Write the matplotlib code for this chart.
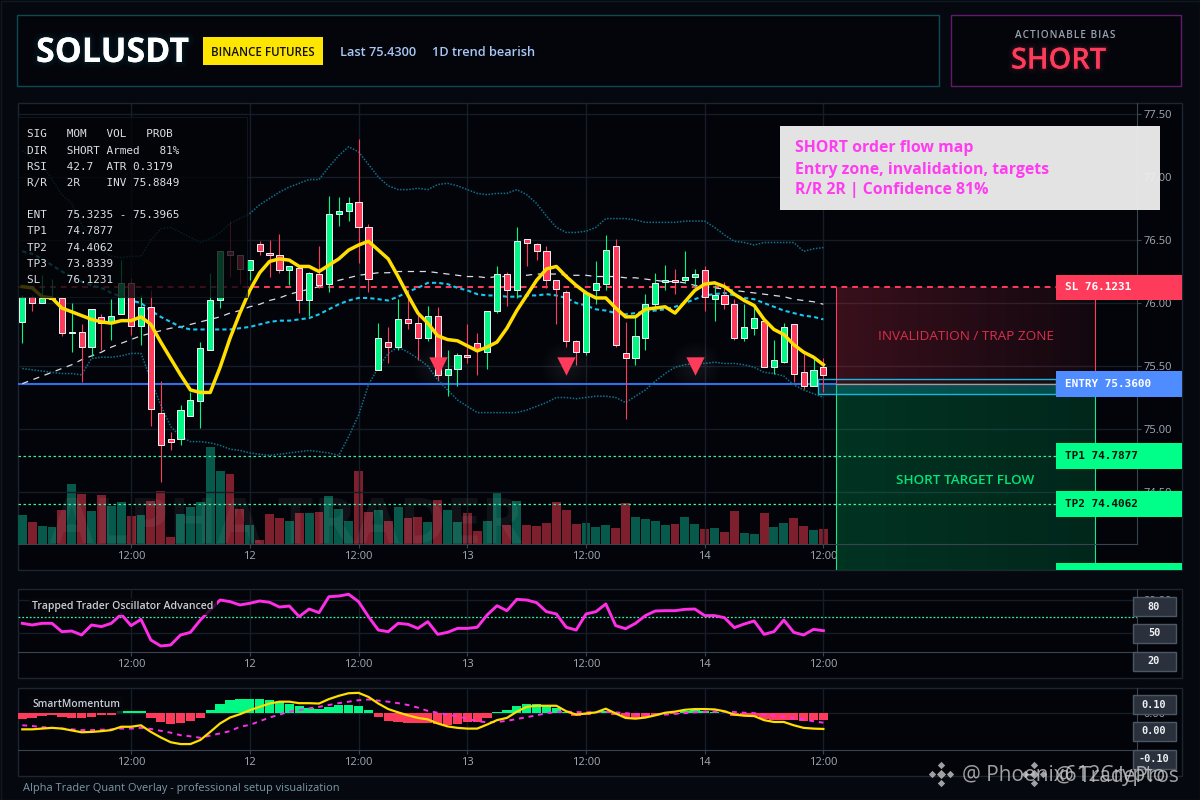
import numpy as np
import matplotlib
matplotlib.use("Agg")
import matplotlib.pyplot as plt
import matplotlib.patheffects as pe
from matplotlib.patches import Rectangle

plt.rcParams['font.family'] = ['Open Sans', 'DejaVu Sans']

# candles, one per hour
opens = [75.85,76.05,76.00,76.03,76.04,75.76,75.77,75.65,75.89,75.85,
         75.91,76.16,75.82,75.97,75.13,74.92,74.92,75.10,75.22,75.63,
         76.02,76.41,76.38,76.26,76.47,76.40,76.38,76.26,76.28,76.02,
         76.23,76.15,76.71,76.73,76.80,76.60,75.47,75.69,75.65,75.87,
         75.84,75.72,75.90,75.43,75.48,75.59,75.68,75.61,75.94,76.23,
         76.10,76.51,76.47,76.41,76.18,76.09,75.70,75.61,76.10,76.15,
         76.45,75.60,75.56,75.72,75.99,76.17,76.18,76.18,76.21,76.26,
         76.03,76.06,75.99,75.72,75.80,75.86,75.49,75.53,75.83,75.45,
         75.34,75.49]
closes = [76.05,76.00,76.04,76.04,75.76,75.77,75.65,75.95,75.84,75.90,
          76.16,75.82,75.97,75.16,74.87,74.90,75.15,75.23,75.64,76.02,
          76.41,76.38,76.27,76.34,76.41,76.38,76.26,76.29,76.02,76.24,
          76.14,76.71,76.73,76.79,76.60,76.19,75.72,75.65,75.87,75.84,
          75.72,75.90,75.43,75.48,75.59,75.57,75.63,75.94,76.23,76.10,
          76.49,76.48,76.41,76.18,76.11,75.70,75.61,76.08,76.16,76.42,
          75.67,75.56,75.74,75.99,76.16,76.18,76.17,76.21,76.23,76.05,
          76.06,75.99,75.72,75.81,75.88,75.49,75.55,75.81,75.44,75.34,
          75.47,75.43]
highs = [76.06,76.06,76.22,76.19,76.04,76.00,75.83,75.95,75.91,76.03,
         76.34,76.20,76.06,76.10,75.38,74.98,75.19,75.29,75.69,76.24,
         76.41,76.65,76.38,76.34,76.49,76.50,76.55,76.29,76.28,76.25,
         76.45,76.85,76.84,76.84,77.30,76.63,75.84,75.81,76.03,76.10,
         75.94,75.98,75.97,75.63,75.60,75.83,75.76,75.94,76.29,76.25,
         76.60,76.51,76.48,76.45,76.18,76.10,75.71,76.08,76.33,76.54,
         76.51,75.85,75.90,76.07,76.24,76.30,76.27,76.41,76.27,76.29,
         76.14,76.17,76.03,75.99,75.96,75.88,75.71,75.84,75.83,75.60,
         75.56,75.56]
lows = [75.68,75.94,76.00,76.02,75.74,75.61,75.37,75.58,75.63,75.71,
        75.91,75.75,75.67,75.02,74.58,74.83,74.87,75.10,75.01,75.63,
        75.96,76.21,76.15,76.18,76.38,76.21,76.24,76.14,75.92,75.90,
        76.12,76.09,76.61,76.65,76.32,76.09,75.47,75.52,75.63,75.79,
        75.55,75.70,75.39,75.26,75.34,75.52,75.43,75.48,75.92,75.98,
        76.04,76.29,76.34,76.12,75.83,75.65,75.51,75.59,75.99,76.10,
        75.65,75.08,75.51,75.63,75.97,76.10,76.07,76.16,76.13,75.94,
        75.86,75.95,75.71,75.70,75.75,75.49,75.44,75.52,75.37,75.32,
        75.34,75.29]
volumes = [29,22,18,17,34,60,50,33,49,38,42,28,29,43,53,7,30,37,42,97,
           73,70,35,19,4,30,26,23,31,31,32,48,35,23,73,32,34,23,37,26,
           27,22,44,34,22,31,13,23,51,19,43,19,18,21,42,34,20,21,17,19,
           16,41,27,25,23,19,20,27,20,15,16,12,33,11,10,31,17,21,26,18,
           14,15]

# overlays on price
fast_line = [76.13,76.12,76.05,76.04,75.96,75.93,75.90,75.87,75.85,75.84,
             75.86,75.86,75.89,75.83,75.69,75.56,75.43,75.31,75.29,75.29,
             75.49,75.72,75.92,76.10,76.24,76.33,76.35,76.34,76.29,76.29,
             76.25,76.30,76.35,76.42,76.46,76.49,76.42,76.35,76.21,76.06,
             75.92,75.84,75.74,75.71,75.70,75.66,75.62,75.65,75.69,75.80,
             75.94,76.06,76.18,76.27,76.29,76.21,76.14,76.08,76.04,76.04,
             75.96,75.89,75.89,75.95,75.96,75.97,75.92,76.01,76.10,76.15,
             76.16,76.13,76.07,76.02,75.98,75.87,75.79,75.75,75.67,75.61,
             75.57,75.51]
mid_line = [76.41,76.39,76.35,76.30,76.25,76.21,76.17,76.14,76.12,76.08,
            76.05,76.02,76.00,75.94,75.89,75.85,75.81,75.79,75.79,75.79,
            75.79,75.79,75.80,75.81,75.83,75.85,75.86,75.86,75.87,75.88,
            75.91,75.95,75.99,76.02,76.04,76.04,76.03,76.02,76.05,76.09,
            76.12,76.16,76.16,76.15,76.12,76.10,76.07,76.06,76.06,76.05,
            76.05,76.06,76.06,76.07,76.06,76.04,76.00,75.98,75.95,75.94,
            75.92,75.91,75.92,75.93,75.94,75.95,75.97,76.00,76.03,76.06,
            76.07,76.08,76.06,76.04,76.03,76.00,75.97,75.94,75.92,75.90,
            75.89,75.87]
slow_line = [75.36,75.39,75.42,75.45,75.48,75.51,75.55,75.58,75.61,75.65,
             75.68,75.71,75.74,75.76,75.78,75.80,75.81,75.83,75.85,75.87,
             75.89,75.92,75.94,75.97,75.99,76.02,76.04,76.07,76.09,76.11,
             76.13,76.16,76.18,76.20,76.22,76.23,76.24,76.24,76.25,76.25,
             76.25,76.25,76.24,76.23,76.22,76.21,76.21,76.20,76.21,76.21,
             76.22,76.22,76.23,76.23,76.23,76.22,76.22,76.22,76.21,76.21,
             76.21,76.20,76.20,76.19,76.18,76.17,76.17,76.16,76.14,76.13,
             76.12,76.11,76.10,76.09,76.08,76.07,76.06,76.05,76.03,76.02,
             76.01,75.99]
band_upper = [77.21,77.15,77.10,76.98,76.86,76.79,76.62,76.52,76.42,76.37,
              76.36,76.37,76.37,76.50,76.59,76.60,76.56,76.52,76.48,76.51,
              76.56,76.63,76.67,76.71,76.78,76.83,76.88,76.92,76.95,76.98,
              76.98,77.08,77.17,77.24,77.20,77.10,77.00,76.93,76.90,76.90,
              76.91,76.90,76.94,76.95,76.93,76.90,76.87,76.86,76.87,76.87,
              76.90,76.86,76.79,76.69,76.60,76.56,76.56,76.57,76.60,76.67,
              76.67,76.67,76.66,76.64,76.64,76.64,76.64,76.65,76.65,76.65,
              76.60,76.54,76.49,76.48,76.46,76.48,76.48,76.48,76.48,76.41,
              76.43,76.44]
band_lower = [75.48,75.47,75.46,75.45,75.44,75.44,75.43,75.56,75.57,75.57,
              75.58,75.60,75.60,75.39,75.19,75.02,74.94,74.90,74.90,74.89,
              74.87,74.84,74.83,74.81,74.80,74.79,74.80,74.81,74.82,74.83,
              74.82,74.81,74.79,74.94,75.11,75.35,75.49,75.60,75.65,75.61,
              75.56,75.50,75.39,75.31,75.23,75.18,75.13,75.13,75.13,75.13,
              75.13,75.15,75.18,75.21,75.25,75.25,75.24,75.25,75.26,75.26,
              75.25,75.21,75.26,75.31,75.38,75.44,75.49,75.51,75.52,75.52,
              75.53,75.52,75.52,75.51,75.49,75.45,75.44,75.42,75.35,75.31,
              75.28,75.25]

# Trapped Trader Oscillator
tto = [58.8,57.3,58.8,58.8,51.2,51.8,48.2,57.3,55.8,58.8,
       67.0,56.7,62.4,43.6,38.2,39.1,48.2,50.6,61.8,70.9,
       80.0,78.5,75.5,77.0,79.1,77.9,73.6,74.5,64.9,71.8,
       68.5,83.0,83.6,85.2,78.5,64.9,52.7,51.2,58.8,57.9,
       54.2,60.3,48.8,50.6,54.2,54.2,55.2,66.4,74.8,70.3,
       80.6,80.0,77.6,69.4,67.3,55.2,52.7,67.3,69.4,76.4,
       56.7,53.9,58.8,65.8,70.0,70.3,70.3,71.5,71.8,65.8,
       65.8,63.9,54.9,58.2,60.9,48.8,51.2,61.8,50.6,48.2,
       53.3,52.1]

# SmartMomentum
sm_hist = [-.014,-.011,-.007,-.005,-.009,-.012,-.013,-.009,-.005,-.003,
           .007,.008,.007,-.011,-.024,-.029,-.025,-.021,-.011,.010,
           .026,.037,.040,.040,.040,.036,.032,.027,.019,.015,
           .013,.018,.024,.023,.021,.009,-.009,-.020,-.023,-.025,
           -.025,-.027,-.029,-.032,-.029,-.023,-.022,-.011,.004,.009,
           .020,.025,.025,.020,.014,.005,-.006,-.003,.002,.007,
           -.003,-.009,-.011,-.009,-.005,.002,-.002,.007,.010,.008,
           .004,.002,-.006,-.007,-.007,-.016,-.018,-.018,-.018,-.020,
           -.019,-.018]
sm_line = [-.043,-.043,-.041,-.039,-.041,-.046,-.051,-.050,-.048,-.045,
           -.036,-.036,-.032,-.050,-.065,-.078,-.083,-.083,-.072,-.050,
           -.027,-.011,-.002,.009,.018,.027,.032,.032,.028,.028,
           .027,.039,.048,.055,.056,.045,.027,.012,.003,-.005,
           -.012,-.016,-.027,-.035,-.039,-.041,-.041,-.030,-.018,-.012,
           .005,.018,.021,.021,.021,.006,-.003,0,.003,.013,
           0,-.012,-.014,-.011,-.005,.002,.005,.010,.012,.012,
           .011,.006,-.003,-.006,-.007,-.018,-.023,-.023,-.032,-.039,
           -.041,-.042]
sm_signal = [-.032,-.034,-.037,-.039,-.041,-.043,-.045,-.045,-.044,-.043,
             -.041,-.041,-.039,-.042,-.047,-.052,-.059,-.062,-.066,-.060,
             -.054,-.048,-.036,-.031,-.021,-.011,-.003,.005,.009,.014,
             .018,.023,.028,.032,.036,.038,.035,.032,.028,.023,
             .016,.007,.002,-.003,-.008,-.014,-.021,-.024,-.023,-.020,
             -.015,-.010,-.005,.001,.004,.005,.004,.003,.004,.005,
             .003,.001,-.002,-.003,-.003,-.003,-.001,.001,.003,.005,
             .005,.005,.004,.002,.001,-.003,-.006,-.009,-.013,-.016,
             -.021,-.025]

tick_idx = [11, 23, 34, 45, 57, 69, 81]
tick_names = ['12:00', '12', '12:00', '13', '12:00', '14', '12:00']
price_ticks = [74.5, 75.0, 75.5, 76.0, 76.5, 77.0, 77.5]
signal_idx = [42, 55, 68]
signal_price = 75.50
level_names = ['SL 76.1231', 'ENTRY 75.3600', 'TP1 74.7877', 'TP2 74.4062', 'TP3 73.8339']
level_vals = [76.1231, 75.36, 74.7877, 74.4062, 73.8339]
level_cols = ['#ff3b5c', '#4f8cff', '#00ff88', '#00ff88', '#00ff88']
level_text = ['white', 'white', '#04140c', '#04140c', '#04140c']
panel_rows = ['SIG   MOM   VOL   PROB',
              'DIR   SHORT Armed   81%',
              'RSI   42.7  ATR 0.3179',
              'R/R   2R    INV 75.8849',
              '',
              'ENT   75.3235 - 75.3965',
              'TP1   74.7877',
              'TP2   74.4062',
              'TP3   73.8339',
              'SL    76.1231']
note_rows = ['SHORT order flow map', 'Entry zone, invalidation, targets', 'R/R 2R | Confidence 81%']

W, H = 1200, 800
GREEN, RED = '#00f884', '#ff3b5c'
YELLOW = '#ffde00'
PANE = '#02040a'
GRID = '#161d27'
AXCOL = '#3a4450'
TICKCOL = '#a3abb6'
MONO = 'DejaVu Sans Mono'

# pixel <-> data helpers: one candle every 9.89 px, first one at x=22.3
STEP = 9.89
X0 = 22.3
XR = 1136.7
def xi(px):
    return (px - X0) / STEP
x_left, x_right, x_end = xi(18), xi(1182), xi(XR)
idx = np.arange(len(opens))

def add_axes(l, t, r, b, z):
    a = fig.add_axes([l / W, 1 - b / H, (r - l) / W, (b - t) / H], zorder=z)
    a.patch.set_alpha(0)
    return a

def style_pane(a, y_floor, y_top, yticks, fmt):
    a.set_xlim(x_left, x_right)
    for s in ['left', 'top']:
        a.spines[s].set_visible(False)
    a.spines['bottom'].set_position(('data', y_floor))
    a.spines['bottom'].set_bounds(x_left, x_end)
    a.spines['right'].set_position(('data', x_end))
    a.spines['right'].set_bounds(y_floor, y_top)
    a.spines['bottom'].set_color(AXCOL)
    a.spines['right'].set_color(AXCOL)
    a.yaxis.tick_right()
    a.set_xticks(tick_idx)
    a.set_xticklabels(tick_names)
    a.set_yticks(yticks)
    a.set_yticklabels([fmt % v for v in yticks])
    a.tick_params(colors=AXCOL, labelcolor=TICKCOL, labelsize=8, length=3, width=0.8, pad=2)
    a.vlines(tick_idx, y_floor, y_top, color=GRID, lw=1, zorder=1)
    a.hlines(yticks, x_left, x_end, color=GRID, lw=1, zorder=1)

fig = plt.figure(figsize=(12, 8), dpi=100, facecolor='#05080e')

# page furniture, in pixels
bg = add_axes(0, 0, W, H, 0)
bg.set_xlim(0, W)
bg.set_ylim(H, 0)
bg.axis('off')
def box(a, l, t, r, b, edge, face='none', lw=1, z=1, alpha=None):
    a.add_patch(Rectangle((l, t), r - l, b - t, fc=face, ec=edge, lw=lw, zorder=z, alpha=alpha))

box(bg, 0.5, 0.5, W - 0.5, H - 0.5, '#101824', face='none')
box(bg, 17, 15, 939, 86, '#0e4a55', face='#03050b')
box(bg, 951, 15, 1181, 86, '#641a6c', face='#03050b')
for t, b in [(103, 570), (589, 678), (688, 776)]:
    box(bg, 17.5, t, 1182, b, '#1c2530', face=PANE)

bg.text(36, 53, 'SOLUSDT', color='white', fontsize=24.5, fontweight='bold', va='center',
        path_effects=[pe.withStroke(linewidth=7, foreground='#1ad0ff', alpha=0.03),
                      pe.withStroke(linewidth=3, foreground='#1ad0ff', alpha=0.04)])
box(bg, 203, 37, 323, 65, 'none', face='#ffe600')
bg.text(263, 52, 'BINANCE FUTURES', color='#101010', fontsize=8.3, fontweight='semibold', ha='center', va='center')
bg.text(340, 52, 'Last 75.4300', color='#a9c8f5', fontsize=9.2, fontweight='semibold', va='center')
bg.text(432, 52, '1D trend bearish', color='#a9c8f5', fontsize=9.2, fontweight='semibold', va='center')
bg.text(1065.5, 35.5, '\u200a'.join('ACTIONABLE BIAS'), color='#9aa3ae', fontsize=7.2,
        fontweight='semibold', ha='center', va='center')
bg.text(1011, 61, 'SHORT', color=RED, fontsize=20.8, fontweight='semibold', ha='left', va='center',
        path_effects=[pe.withStroke(linewidth=7, foreground=RED, alpha=0.04),
                      pe.withStroke(linewidth=3, foreground=RED, alpha=0.07)])
bg.text(23, 788.5, 'Alpha Trader Quant Overlay - professional setup visualization', color='#7b9aa8',
        fontsize=7.95, va='center')

# volume underneath the price pane
vol = add_axes(18, 444, 1182, 544, 1)
vol.set_xlim(x_left, x_right)
vol.set_ylim(0, 100)
vol.axis('off')
up = np.array(closes) >= np.array(opens)
vol.bar(idx, volumes, width=0.9, color=np.where(up, '#075a4b', '#7e1f2e'))

# price pane
ax = add_axes(18, 103, 1182, 570, 2)
y_hi = 75 + (429 - 103) / 126
y_lo = 75 - (570 - 429) / 126
y_floor = 75 - (544 - 429) / 126
ax.set_ylim(y_lo, y_hi)
style_pane(ax, y_floor, y_hi, price_ticks, '%.2f')

# projection zones
zx0, zx1, tag_x = xi(836), xi(1095), xi(1056)
def zone(y0, y1, rgb, a0, a1):
    g = np.zeros((1, 200, 4))
    g[..., :3] = rgb
    g[..., 3] = np.linspace(a0, a1, 200)
    ax.imshow(g, extent=[zx0, zx1, y0, y1], aspect='auto', zorder=2, interpolation='bilinear')
zone(75.36, level_vals[0], (1.0, 0.23, 0.36), 0.22, 0.07)
zone(y_lo, 75.36, (0.0, 1.0, 0.53), 0.19, 0.14)
ax.set_xlim(x_left, x_right)
ax.set_ylim(y_lo, y_hi)
ax.vlines([zx0, zx1], 75.36, level_vals[0], color=RED, lw=0.8, zorder=2.2)
ax.vlines([zx0, zx1], y_lo, 75.36, color='#19e58a', lw=0.8, zorder=2.2)
ax.text((zx0 + zx1) / 2, 75.735, 'INVALIDATION / TRAP ZONE', color='#d92f4e', fontsize=9.7,
        ha='center', va='center', zorder=3)
ax.text((zx0 + zx1) / 2, 74.59, 'SHORT TARGET FLOW', color='#00e47a', fontsize=9.7, fontweight='semibold',
        ha='center', va='center', zorder=3)

# level lines
ax.plot([x_left, tag_x], [level_vals[0]] * 2, color=RED, lw=1.4, ls=(0, (3, 2.5)), zorder=3)
ax.plot([x_left, zx0], [75.36] * 2, color='#2f6fe8', lw=1.5, zorder=3)
ax.plot([zx0, tag_x], [75.36] * 2, color='#ff8c9c', lw=0.9, zorder=3)
for v in level_vals[2:4]:
    ax.plot([x_left, tag_x], [v, v], color='#3cf0a0', lw=0.9, ls=(0, (2, 2)), zorder=3)
ax.add_patch(Rectangle((xi(818.3), 75.275), tag_x - xi(818.3), 75.3965 - 75.275, ec='#19c8f0',
                       lw=1, alpha=0.9, zorder=3.1, fill=False))
ax.add_patch(Rectangle((xi(818.3), 75.275), tag_x - xi(818.3), 75.36 - 75.275, fc='#0ca0b8', alpha=0.3, lw=0, zorder=3))

# bands and moving averages
ax.plot(idx, band_upper, color='#12708a', lw=1.1, ls=(0, (1, 1)), zorder=3.2)
ax.plot(idx, band_lower, color='#12708a', lw=1.1, ls=(0, (1, 1)), zorder=3.2)
ax.plot(idx, slow_line, color='#d9dee6', lw=0.9, ls=(0, (5, 4.5)), zorder=3.3)
ax.plot(idx, mid_line, color='#18c8f0', lw=1.5, ls=(0, (2, 1.5)), zorder=3.3)

# candles
col = np.where(up, GREEN, RED)
ax.vlines(idx, lows, highs, colors=col, lw=0.8, zorder=4)
body_lo = np.minimum(opens, closes)
body_h = np.abs(np.array(closes) - np.array(opens))
ax.bar(idx, body_h, bottom=body_lo, width=0.62, color=col, edgecolor='#f4f6f8', linewidth=0.7, zorder=4.2)
ax.plot(idx, fast_line, color=YELLOW, lw=2.5, zorder=5, solid_joinstyle='round')

# sell signals with a soft glow
for s in [1300, 1000, 750, 520, 340, 200]:
    ax.scatter(signal_idx, [signal_price] * 3, s=s, color='white', alpha=0.012, lw=0, zorder=5.4)
ax.scatter(signal_idx, [signal_price] * 3, s=175, marker='v', color=RED, lw=0, zorder=5.5)

ax.text(xi(50), y_floor + 0.01, 'ALPHA TRADER', color='white', alpha=0.06, fontsize=45.5, fontweight='bold',
        ha='left', va='baseline', zorder=5.6)

# signal table
ax.add_patch(Rectangle((x_left, 76.05), xi(246.7) - x_left, y_hi - 0.11 - 76.05, fc='#030508', alpha=0.78,
                       ec='#151b22', lw=0.8, zorder=6))
for n, row in enumerate(panel_rows):
    ax.text(xi(27), 75 + (429 - (134.3 + n * 16.2)) / 126, row, family=MONO, fontsize=7.95, color='#dcdfe4',
            va='center', zorder=7)

# note box
ax.add_patch(Rectangle((xi(780), 75 + (429 - 210) / 126), xi(1160) - xi(780), 84 / 126, fc='#f0f0f0', alpha=0.95,
                       lw=0, zorder=8))
for row, py in zip(note_rows, [148.5, 169.5, 189.5]):
    ax.text(xi(795), 75 + (429 - py) / 126, row, color='#ff3df0', fontsize=11.4, fontweight='bold',
            va='center', zorder=9)

# price tags
for name, v, c, tc in zip(level_names, level_vals, level_cols, level_text):
    ax.add_patch(Rectangle((tag_x, v - 0.103), x_right - tag_x, 0.206, fc=c, lw=0, zorder=10))
    ax.text(xi(1065), v, name, family=MONO, fontsize=7.9, fontweight='bold', color=tc, va='center',
            zorder=11, clip_on=True)

# oscillator pane
osc = add_axes(18, 589, 1182, 678, 2)
osc.set_ylim(9.1, 90)
style_pane(osc, 32.7, 90, [50, 80], '%.2f')
osc.plot([x_left, x_end], [65, 65], color='#3cf0a0', lw=0.9, ls=(0, (1.5, 1.5)), zorder=2)
osc.plot(idx, tto, color='#ff2ee6', lw=2.1, zorder=3)

# momentum pane
sm = add_axes(18, 688, 1182, 776, 2)
sm.set_ylim(-.1697, .0692)
style_pane(sm, -.0992, .0692, [0], '%.2f')
sm.bar(idx, sm_hist, width=0.95, color=np.where(np.array(sm_hist) >= 0, GREEN, RED), zorder=2)
sm.plot(idx, sm_signal, color='#ff2ee6', lw=1.4, ls=(0, (2.5, 2.5)), zorder=3)
sm.plot(idx, sm_line, color=YELLOW, lw=1.6, zorder=3.5)

# things sitting over the panes
top = add_axes(0, 0, W, H, 5)
top.set_xlim(0, W)
top.set_ylim(H, 0)
top.axis('off')
top.text(32, 606.5, 'Trapped Trader Oscillator Advanced', color='#c9cdd4', fontsize=7.6, fontweight='semibold',
         va='center', bbox=dict(fc='#05070c', ec='none', alpha=0.8, pad=2.5))
top.text(32, 704.5, 'SmartMomentum', color='#c9cdd4', fontsize=7.3, fontweight='semibold',
         va='center', bbox=dict(fc='#05070c', ec='none', alpha=0.8, pad=2.5))
for label, t in [('80', 597), ('50', 624), ('20', 652), ('0.10', 695), ('0.00', 722), ('-0.10', 750)]:
    box(top, 1132.5, t, 1175.5, t + 19, '#4c5764', face='#2a313c', z=2)
    top.text(1154, t + 9.5, label, family=MONO, fontsize=7.4, fontweight='bold', color='#eef0f3',
             ha='center', va='center', zorder=3)

# repost marks
for cx, text_x, txt in [(941, 962, '@ Phoenix612Crypto'), (1034, 1055, '@ TradePros')]:
    top.scatter([cx], [774], marker='D', s=22, color='#c8c8c8', alpha=0.8, lw=0, zorder=4)
    top.scatter([cx - 9, cx + 9, cx, cx], [774, 774, 765, 783], marker='D', s=14, color='#c8c8c8', alpha=0.8, lw=0, zorder=4)
    top.text(text_x, 776, txt, color='#c8c8c8', alpha=0.8, fontsize=15, va='center', zorder=4)

fig.savefig('out.png', dpi=100, facecolor=fig.get_facecolor())
